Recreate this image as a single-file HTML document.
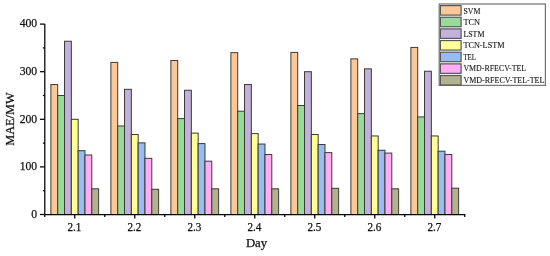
<!DOCTYPE html><html><head><meta charset="utf-8"><title>MAE chart</title>
<style>html,body{margin:0;padding:0;background:#fff;}svg{display:block;}text{font-family:"Liberation Serif","DejaVu Serif",serif;fill:#111;stroke:#111;stroke-width:0.25;}</style></head><body>
<svg width="550" height="256" viewBox="0 0 550 256">
<rect width="550" height="256" fill="#fff"/>
<g stroke="#3a3a3a" stroke-width="1">
<rect x="50.88" y="84.55" width="6.82" height="129.95" fill="#FDC897"/>
<rect x="57.70" y="95.50" width="6.82" height="119.00" fill="#98DB98"/>
<rect x="64.52" y="41.24" width="6.82" height="173.26" fill="#C4B1DB"/>
<rect x="71.34" y="119.30" width="6.82" height="95.20" fill="#FFFE98"/>
<rect x="78.16" y="150.72" width="6.82" height="63.78" fill="#98BBF0"/>
<rect x="84.98" y="155.00" width="6.82" height="59.50" fill="#FEAEF3"/>
<rect x="91.80" y="188.80" width="6.82" height="25.70" fill="#B2B28C"/>
<rect x="110.88" y="62.42" width="6.82" height="152.08" fill="#FDC897"/>
<rect x="117.70" y="125.96" width="6.82" height="88.54" fill="#98DB98"/>
<rect x="124.52" y="89.31" width="6.82" height="125.19" fill="#C4B1DB"/>
<rect x="131.34" y="134.53" width="6.82" height="79.97" fill="#FFFE98"/>
<rect x="138.16" y="142.86" width="6.82" height="71.64" fill="#98BBF0"/>
<rect x="144.98" y="158.33" width="6.82" height="56.17" fill="#FEAEF3"/>
<rect x="151.80" y="189.27" width="6.82" height="25.23" fill="#B2B28C"/>
<rect x="170.88" y="60.51" width="6.82" height="153.99" fill="#FDC897"/>
<rect x="177.70" y="118.59" width="6.82" height="95.91" fill="#98DB98"/>
<rect x="184.52" y="90.26" width="6.82" height="124.24" fill="#C4B1DB"/>
<rect x="191.34" y="133.10" width="6.82" height="81.40" fill="#FFFE98"/>
<rect x="198.16" y="143.58" width="6.82" height="70.92" fill="#98BBF0"/>
<rect x="204.98" y="161.19" width="6.82" height="53.31" fill="#FEAEF3"/>
<rect x="211.80" y="188.80" width="6.82" height="25.70" fill="#B2B28C"/>
<rect x="230.88" y="52.66" width="6.82" height="161.84" fill="#FDC897"/>
<rect x="237.70" y="111.21" width="6.82" height="103.29" fill="#98DB98"/>
<rect x="244.52" y="84.55" width="6.82" height="129.95" fill="#C4B1DB"/>
<rect x="251.34" y="133.58" width="6.82" height="80.92" fill="#FFFE98"/>
<rect x="258.16" y="144.05" width="6.82" height="70.45" fill="#98BBF0"/>
<rect x="264.98" y="154.52" width="6.82" height="59.98" fill="#FEAEF3"/>
<rect x="271.80" y="188.80" width="6.82" height="25.70" fill="#B2B28C"/>
<rect x="290.88" y="52.42" width="6.82" height="162.08" fill="#FDC897"/>
<rect x="297.70" y="105.50" width="6.82" height="109.00" fill="#98DB98"/>
<rect x="304.52" y="71.70" width="6.82" height="142.80" fill="#C4B1DB"/>
<rect x="311.34" y="134.53" width="6.82" height="79.97" fill="#FFFE98"/>
<rect x="318.16" y="144.53" width="6.82" height="69.97" fill="#98BBF0"/>
<rect x="324.98" y="152.62" width="6.82" height="61.88" fill="#FEAEF3"/>
<rect x="331.80" y="188.32" width="6.82" height="26.18" fill="#B2B28C"/>
<rect x="350.88" y="58.85" width="6.82" height="155.65" fill="#FDC897"/>
<rect x="357.70" y="113.59" width="6.82" height="100.91" fill="#98DB98"/>
<rect x="364.52" y="68.84" width="6.82" height="145.66" fill="#C4B1DB"/>
<rect x="371.34" y="135.96" width="6.82" height="78.54" fill="#FFFE98"/>
<rect x="378.16" y="150.24" width="6.82" height="64.26" fill="#98BBF0"/>
<rect x="384.98" y="153.10" width="6.82" height="61.40" fill="#FEAEF3"/>
<rect x="391.80" y="188.80" width="6.82" height="25.70" fill="#B2B28C"/>
<rect x="410.88" y="47.42" width="6.82" height="167.08" fill="#FDC897"/>
<rect x="417.70" y="116.92" width="6.82" height="97.58" fill="#98DB98"/>
<rect x="424.52" y="71.22" width="6.82" height="143.28" fill="#C4B1DB"/>
<rect x="431.34" y="135.96" width="6.82" height="78.54" fill="#FFFE98"/>
<rect x="438.16" y="151.19" width="6.82" height="63.31" fill="#98BBF0"/>
<rect x="444.98" y="154.52" width="6.82" height="59.98" fill="#FEAEF3"/>
<rect x="451.80" y="188.18" width="6.82" height="26.32" fill="#B2B28C"/>
</g>
<g stroke="#000" stroke-width="1.25" fill="none">
<path d="M44.8 23.9V214.5"/>
<path d="M44.5 214.5H465.3"/>
<path d="M40.0 214.50H44.8"/>
<path d="M40.0 166.90H44.8"/>
<path d="M40.0 119.30H44.8"/>
<path d="M40.0 71.70H44.8"/>
<path d="M40.0 24.10H44.8"/>
<path d="M42.9 190.70H44.8"/>
<path d="M42.9 143.10H44.8"/>
<path d="M42.9 95.50H44.8"/>
<path d="M42.9 47.90H44.8"/>
<path d="M74.75 214.5V218.6"/>
<path d="M134.75 214.5V218.6"/>
<path d="M194.75 214.5V218.6"/>
<path d="M254.75 214.5V218.6"/>
<path d="M314.75 214.5V218.6"/>
<path d="M374.75 214.5V218.6"/>
<path d="M434.75 214.5V218.6"/>
<path d="M44.75 214.5V217.0"/>
<path d="M104.75 214.5V217.0"/>
<path d="M164.75 214.5V217.0"/>
<path d="M224.75 214.5V217.0"/>
<path d="M284.75 214.5V217.0"/>
<path d="M344.75 214.5V217.0"/>
<path d="M404.75 214.5V217.0"/>
<path d="M464.75 214.5V217.0"/>
</g>
<text x="31.35" y="217.70" font-size="13.1" textLength="5.85" lengthAdjust="spacingAndGlyphs">0</text>
<text x="19.70" y="170.10" font-size="13.1" textLength="17.5" lengthAdjust="spacingAndGlyphs">100</text>
<text x="19.70" y="122.50" font-size="13.1" textLength="17.5" lengthAdjust="spacingAndGlyphs">200</text>
<text x="19.70" y="74.90" font-size="13.1" textLength="17.5" lengthAdjust="spacingAndGlyphs">300</text>
<text x="19.70" y="27.30" font-size="13.1" textLength="17.5" lengthAdjust="spacingAndGlyphs">400</text>
<text x="67.50" y="231" font-size="11.9" textLength="13.9" lengthAdjust="spacingAndGlyphs">2.1</text>
<text x="127.50" y="231" font-size="11.9" textLength="13.9" lengthAdjust="spacingAndGlyphs">2.2</text>
<text x="187.50" y="231" font-size="11.9" textLength="13.9" lengthAdjust="spacingAndGlyphs">2.3</text>
<text x="247.50" y="231" font-size="11.9" textLength="13.9" lengthAdjust="spacingAndGlyphs">2.4</text>
<text x="307.50" y="231" font-size="11.9" textLength="13.9" lengthAdjust="spacingAndGlyphs">2.5</text>
<text x="367.50" y="231" font-size="11.9" textLength="13.9" lengthAdjust="spacingAndGlyphs">2.6</text>
<text x="427.50" y="231" font-size="11.9" textLength="13.9" lengthAdjust="spacingAndGlyphs">2.7</text>
<text x="245.9" y="247.4" font-size="12.1" textLength="21.3" lengthAdjust="spacingAndGlyphs">Day</text>
<text transform="translate(14.0,145.7) rotate(-90)" font-size="11.5" textLength="53.2" lengthAdjust="spacingAndGlyphs">MAE/MW</text>
<rect x="439.2" y="4.0" width="106.2" height="81.4" fill="#fff" stroke="#777" stroke-width="1.25"/>
<rect x="440.4" y="5.60" width="20.7" height="9.5" fill="#FDC897" stroke="#585858" stroke-width="1.2"/>
<text x="463.4" y="13.80" font-size="8.8" style="stroke-width:0.1" textLength="17.0" lengthAdjust="spacingAndGlyphs">SVM</text>
<rect x="440.4" y="17.25" width="20.7" height="9.5" fill="#98DB98" stroke="#585858" stroke-width="1.2"/>
<text x="463.4" y="25.27" font-size="8.8" style="stroke-width:0.1" textLength="16.7" lengthAdjust="spacingAndGlyphs">TCN</text>
<rect x="440.4" y="28.90" width="20.7" height="9.5" fill="#C4B1DB" stroke="#585858" stroke-width="1.2"/>
<text x="463.4" y="36.74" font-size="8.8" style="stroke-width:0.1" textLength="21.1" lengthAdjust="spacingAndGlyphs">LSTM</text>
<rect x="440.4" y="40.55" width="20.7" height="9.5" fill="#FFFE98" stroke="#585858" stroke-width="1.2"/>
<text x="463.4" y="48.21" font-size="8.8" style="stroke-width:0.1" textLength="41.2" lengthAdjust="spacingAndGlyphs">TCN-LSTM</text>
<rect x="440.4" y="52.20" width="20.7" height="9.5" fill="#98BBF0" stroke="#585858" stroke-width="1.2"/>
<text x="463.4" y="59.68" font-size="8.8" style="stroke-width:0.1" textLength="12.7" lengthAdjust="spacingAndGlyphs">TEL</text>
<rect x="440.4" y="63.85" width="20.7" height="9.5" fill="#FEAEF3" stroke="#585858" stroke-width="1.2"/>
<text x="463.4" y="71.15" font-size="8.8" style="stroke-width:0.1" textLength="62.8" lengthAdjust="spacingAndGlyphs">VMD-RFECV-TEL</text>
<rect x="440.4" y="75.50" width="20.7" height="9.5" fill="#B2B28C" stroke="#585858" stroke-width="1.2"/>
<text x="463.4" y="82.62" font-size="8.8" style="stroke-width:0.1" textLength="81.0" lengthAdjust="spacingAndGlyphs">VMD-RFECV-TEL-TEL</text>
</svg></body></html>
